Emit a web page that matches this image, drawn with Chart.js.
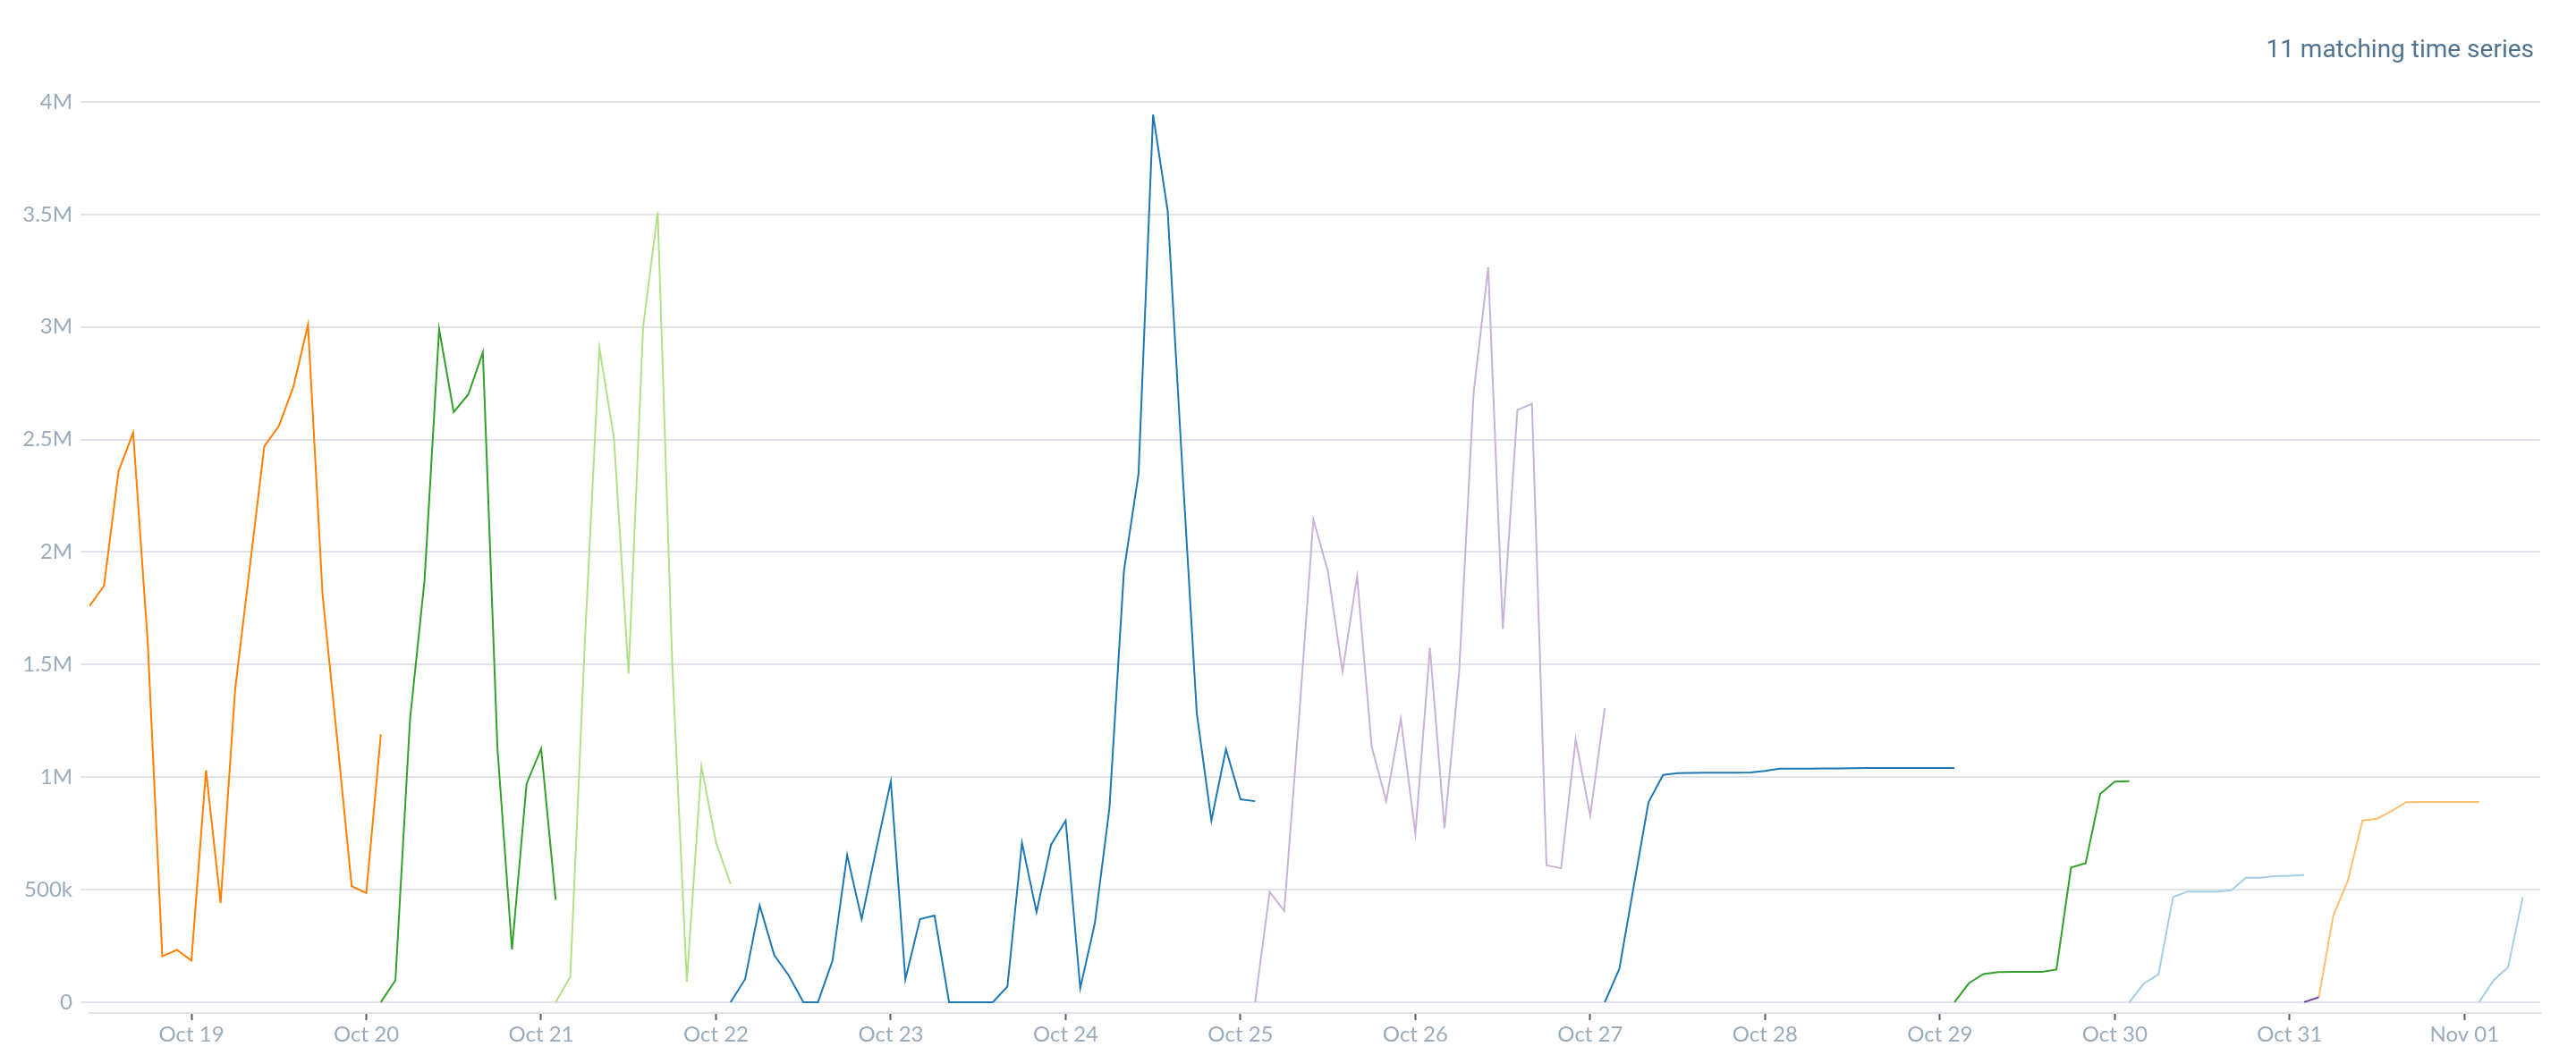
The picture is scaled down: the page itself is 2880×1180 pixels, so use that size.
<!DOCTYPE html>
<html>
<head>
<meta charset="utf-8">
<script src="https://cdn.jsdelivr.net/npm/chart.js@4.4.1/dist/chart.umd.min.js"></script>
<style>
  html, body { margin: 0; padding: 0; background: #fff; }
  .wrap { position: relative; width: 2880px; height: 1180px; }
  .count {
    position: absolute; right: 47px; top: 41px;
    font: 28px/1 Roboto, sans-serif; color: #4f7391;
  }
  canvas { display: block; }
</style>
</head>
<body>
<div class="wrap">
  <div class="count">11 matching time series</div>
  <canvas id="chart" width="2880" height="1180"></canvas>
</div>
<script>
// x is hours since Oct 18 00:00, one sample every 2 hours; values are in thousands.
const STEP_H = 2;

const X_TICKS = [24, 48, 72, 96, 120, 144, 168, 192, 216, 240, 264, 288, 312, 336];
const X_LABELS = ["Oct 19", "Oct 20", "Oct 21", "Oct 22", "Oct 23", "Oct 24", "Oct 25",
  "Oct 26", "Oct 27", "Oct 28", "Oct 29", "Oct 30", "Oct 31", "Nov 01"];
const Y_TICKS = [0, 500000, 1000000, 1500000, 2000000, 2500000, 3000000, 3500000, 4000000];
const Y_LABELS = ["0", "500k", "1M", "1.5M", "2M", "2.5M", "3M", "3.5M", "4M"];

const orangeVals = [1760, 1850, 2360, 2530, 1600, 204, 232, 185, 1030, 440, 1390, 1930,
  2470, 2560, 2735, 3010, 1810, 1170, 515, 485, 1190];
const greenVals = [0, 97, 1255, 1876, 2990, 2622, 2700, 2887, 1130, 234, 970, 1126, 454];
const lightGreenVals = [0, 113, 1600, 2907, 2506, 1460, 3000, 3510, 1500, 91, 1048, 710, 525];
const blueVals = [0, 102, 430, 209, 118, 0, 0, 185, 654, 369, 680, 981, 102, 369, 385,
  0, 0, 0, 0, 69, 708, 400, 700, 807, 62, 350, 860, 1917, 2348, 3944, 3516, 2380,
  1282, 807, 1124, 901, 893];
const lilacVals = [0, 490, 406, 1250, 2145, 1914, 1469, 1892, 1136, 893, 1260, 748, 1574,
  773, 1463, 2709, 3265, 1658, 2631, 2659, 609, 595, 1168, 829, 1307];
const blue2Vals = [0, 148, 520, 888, 1010, 1018, 1019, 1020, 1020, 1020, 1021, 1028, 1037,
  1037, 1037, 1038, 1038, 1039, 1040, 1040, 1040, 1040, 1040, 1040, 1040];
const green2Vals = [0, 85, 125, 134, 135, 135, 135, 145, 598, 618, 925, 980, 982];
const lightBlueVals = [0, 83, 123, 467, 491, 491, 491, 497, 553, 553, 560, 562, 565];
const purpleVals = [0, 22];
const lightOrangeVals = [22, 385, 540, 807, 815, 849, 889, 890, 890, 890, 890, 890];
const lightBlue2Vals = [0, 97, 156, 467];

// [first sample hour, values, colour]
const SERIES = [
  [10, orangeVals, "#ff7f00"],
  [50, greenVals, "#33a02c"],
  [74, lightGreenVals, "#b2df8a"],
  [98, blueVals, "#1f78b4"],
  [170, lilacVals, "#cab2d6"],
  [218, blue2Vals, "#1f78b4"],
  [266, green2Vals, "#33a02c"],
  [290, lightBlueVals, "#a6cee3"],
  [314, purpleVals, "#6a3d9a"],
  [316, lightOrangeVals, "#fdbf6f"],
  [338, lightBlue2Vals, "#a6cee3"],
];

const GRID = "#dde3e8";
const TICK_TEXT = "#9aabbc";
const tickFont = { family: "Lato", size: 24 };

const datasets = SERIES.map(([start, vals, color]) => ({
  data: vals.map((v, i) => ({ x: start + i * STEP_H, y: v * 1000 })),
  borderColor: color,
  backgroundColor: color,
  borderWidth: 2,
  pointRadius: 0,
  tension: 0,
  fill: false,
}));

new Chart(document.getElementById("chart"), {
  type: "line",
  data: { datasets },
  options: {
    responsive: false,
    animation: false,
    layout: { padding: { top: 114, right: 40, bottom: 0, left: 0 } },
    scales: {
      x: {
        type: "linear",
        min: 10,
        max: 346.4,
        afterBuildTicks: (s) => { s.ticks = X_TICKS.map((v) => ({ value: v })); },
        afterFit: (s) => { s.height = 47; },
        ticks: {
          autoSkip: false, maxRotation: 0, padding: 2,
          color: TICK_TEXT, font: tickFont,
          callback: (v, i) => X_LABELS[i],
        },
        grid: {
          drawOnChartArea: false, drawTicks: true, tickLength: 8,
          tickColor: "#5b5b5b", tickWidth: 2,
        },
        border: { display: true, color: GRID, width: 2 },
      },
      y: {
        type: "linear",
        min: -48000,
        max: 4000000,
        afterBuildTicks: (s) => { s.ticks = Y_TICKS.map((v) => ({ value: v })); },
        afterFit: (s) => { s.width = 100; },
        ticks: {
          padding: 9, color: TICK_TEXT, font: tickFont,
          callback: (v, i) => Y_LABELS[i],
        },
        grid: { color: GRID, lineWidth: 2, drawTicks: true, tickLength: 10 },
        border: { display: false },
      },
    },
    plugins: { legend: { display: false }, tooltip: { enabled: false } },
  },
});
</script>
</body>
</html>
